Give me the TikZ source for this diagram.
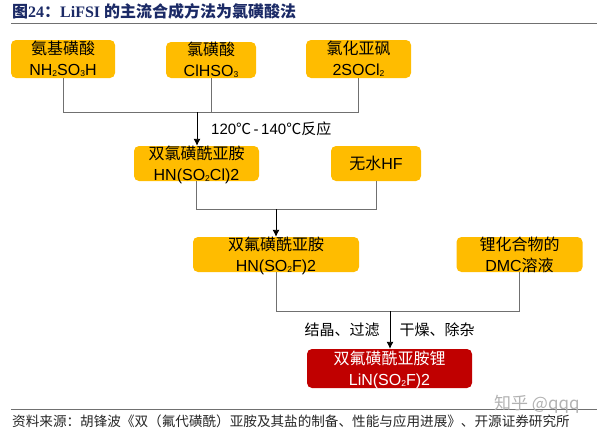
\documentclass[tikz,border=0pt]{standalone}
\usepackage{fontspec}
\setmainfont{Liberation Sans}
\newfontfamily\cjk{Noto Sans CJK SC}
\newfontfamily\titleserif{Liberation Serif}
\usetikzlibrary{arrows.meta}
\definecolor{boxyellow}{HTML}{FFBC00}
\definecolor{boxred}{HTML}{C00000}
\definecolor{titleblue}{HTML}{1B2A66}
\definecolor{linegrey}{HTML}{707070}
\def\lowidx#1{\raisebox{-0.5pt}{\fontsize{8.5}{8.5}\selectfont #1}}
\tikzset{
	chem/.style={rounded corners=5pt, fill=boxyellow, inner sep=0pt, align=center, text height=34pt, text depth=0pt, font=\fontsize{16}{21}\selectfont},
	product/.style={chem, fill=boxred, text=white},
	link/.style={draw=linegrey, line width=0.9pt},
	feed/.style={draw=black, line width=0.9pt, -{Latex[length=7pt,width=7pt]}},
	note/.style={inner sep=0pt, font=\fontsize{15}{16}\selectfont},
	rulebar/.style={draw=linegrey, line width=1pt}
}
\begin{document}
\begin{tikzpicture}[x=1pt, y=-1pt]
	\useasboundingbox (0, 0) rectangle (600, 431);
	
	% title and rules
	\node[anchor=west, inner sep=0pt, text=titleblue, font=\fontsize{16}{18}\selectfont\bfseries] (heading) at (12, 11.5) {{\cjk 图}{\titleserif 24}{\cjk ：}{\titleserif LiFSI}\hspace{4pt}{\cjk 的主流合成方法为氯磺酸法}};
	\coordinate (headleft) at (11, 23.5);
	\coordinate (headright) at (597, 23.5);
	\draw[rulebar] (headleft) -- (headright);
	
	% first row
	\node[chem, text height=33pt, minimum width=104pt, minimum height=38pt] (amino) at (63, 59) {{\cjk 氨基磺酸}\\NH\lowidx{2}SO\lowidx{3}H};
	\node[chem, text height=33pt, minimum width=90pt, minimum height=36pt] (chloro) at (211, 60) {{\cjk 氯磺酸}\\ClHSO\lowidx{3}};
	\node[chem, text height=33pt, minimum width=105pt, minimum height=38pt] (thionyl) at (358.5, 59) {{\cjk 氯化亚砜}\\2SOCl\lowidx{2}};
	
	% second row
	\node[chem, minimum width=125pt, minimum height=35pt] (dichlor) at (196.5, 163.5) {{\cjk 双氯磺酰亚胺}\\HN(SO\lowidx{2}Cl)2};
	\node[chem, text height=11pt, minimum width=90pt, minimum height=35pt] (hf) at (376, 163.5) {{\cjk 无水}HF};
	
	% third row
	\node[chem, minimum width=166pt, minimum height=35pt] (difluor) at (276, 254.5) {{\cjk 双氟磺酰亚胺}\\HN(SO\lowidx{2}F)2};
	\node[chem, minimum width=126pt, minimum height=35pt] (lithium) at (519.5, 254.5) {{\cjk 锂化合物的}\\DMC{\cjk 溶液}};
	
	% result
	\node[product, minimum width=165pt, minimum height=39pt] (lifsi) at (389.5, 368.5) {{\cjk 双氟磺酰亚胺锂}\\LiN(SO\lowidx{2}F)2};
	
	% joins
	\coordinate (jointa) at (197, 112);
	\coordinate (jointb) at (276, 209);
	\coordinate (jointc) at (390, 311);
	
	\draw[link] (amino.south) |- (jointa);
	\draw[link] (chloro.south) |- (jointa);
	\draw[link] (thionyl.south) |- (jointa);
	\draw[feed] (jointa) -- (jointa |- dichlor.north);
	
	\draw[link] (dichlor.south) |- (jointb);
	\draw[link] (hf.south) |- (jointb);
	\draw[feed] (jointb) -- (jointb |- difluor.north);
	
	\draw[link] (difluor.south) |- (jointc);
	\draw[link] (lithium.south) |- (jointc);
	\draw[feed] (jointc) -- (jointc |- lifsi.north);
	
	% labels
	\node[note, anchor=west] (temp) at (211, 129) {120{\cjk ℃}\,-\,140{\cjk ℃反应}};
	\node[note] (filter) at (342, 330) {\cjk 结晶、过滤};
	\node[note] (dry) at (437, 330) {\cjk 干燥、除杂};
	
	% footer
	\coordinate (footleft) at (11, 409);
	\coordinate (footright) at (597, 409);
	\draw[rulebar] (footleft) -- (footright);
	\node[anchor=west, inner sep=0pt, text=black!85, font=\fontsize{13.6}{15}\selectfont\cjk] (source) at (12, 421) {资料来源：胡锋波《双（氟代磺酰）亚胺及其盐的制备、性能与应用进展》、开源证券研究所};
	\node[anchor=west, inner sep=0pt, text=black!30, font=\fontsize{17}{18}\selectfont\cjk] (mark) at (494, 404) {知乎 @qqq};
\end{tikzpicture}
\end{document}
